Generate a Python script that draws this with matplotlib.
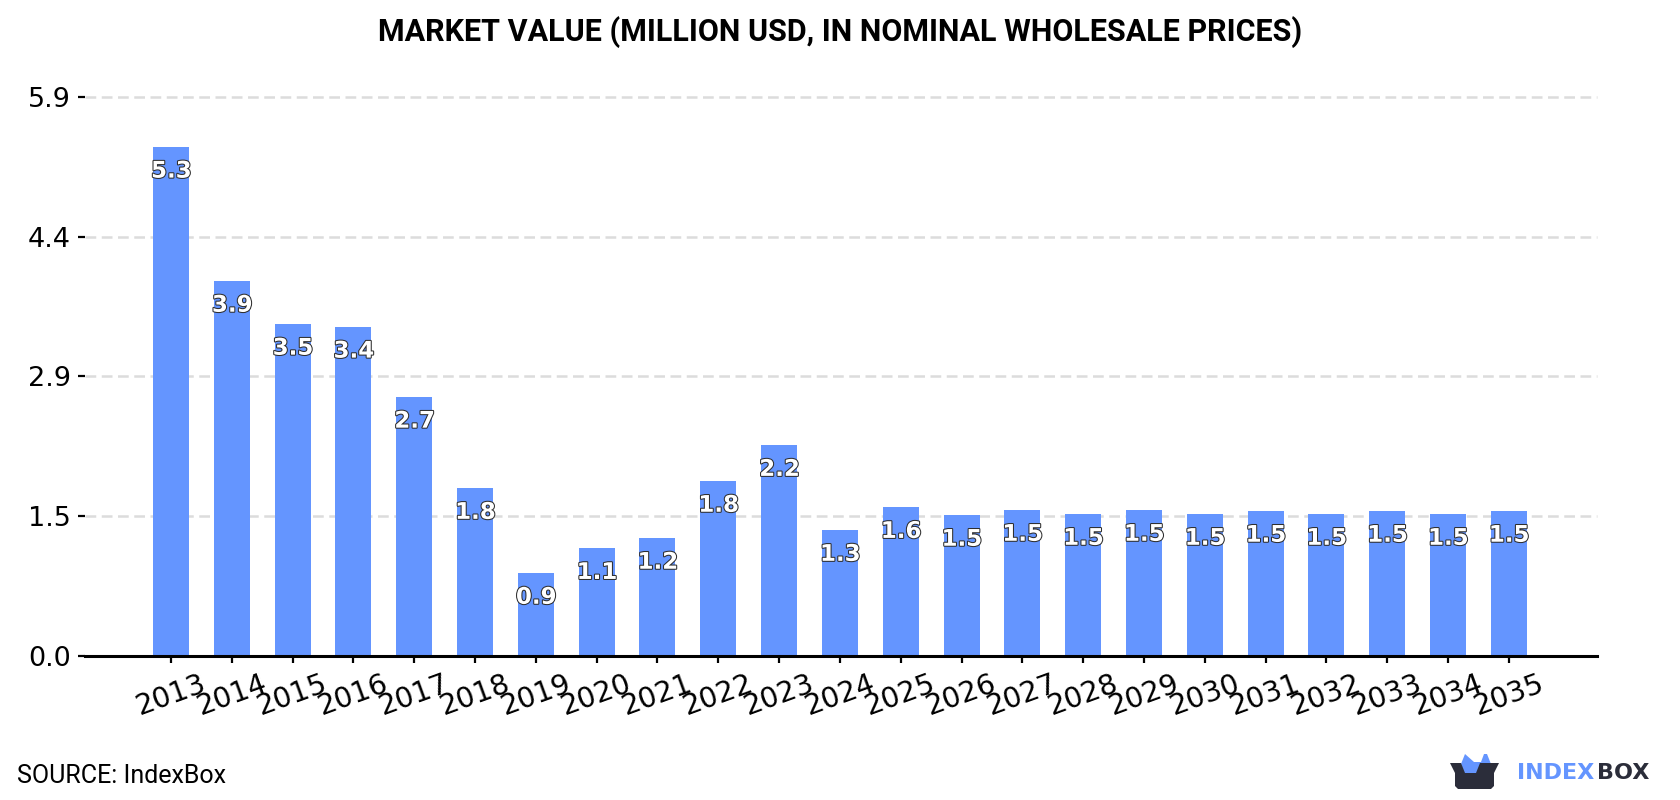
import numpy as np
import matplotlib
matplotlib.use('Agg')
import matplotlib.pyplot as plt
import matplotlib.patheffects as pe
from matplotlib.patches import Polygon

years = list(range(2013, 2036))
values = [5.335, 3.93, 3.48, 3.449, 2.715, 1.76, 0.87, 1.13, 1.237, 1.834, 2.21, 1.32,
          1.56, 1.478, 1.53, 1.488, 1.53, 1.488, 1.52, 1.488, 1.52, 1.488, 1.52]
y_ticks = np.linspace(0, 5.86, 5)

W, H = 1680, 800
BLUE = '#6495ff'
DARK = '#2b2d3a'


def main():
    fig = plt.figure(figsize=(W / 100, H / 100), dpi=100)
    ax = fig.add_axes([85 / W, 1 - 656 / H, (1597 - 85) / W, (656 - 96.7) / H])

    x = np.arange(len(years))
    ax.bar(x, values, width=0.592, color=BLUE, zorder=3)
    ax.set_xlim(-1.414, 23.45)
    ax.set_ylim(0, y_ticks[-1])

    for xi, v in zip(x, values):
        ax.annotate('%.1f' % v, (xi, v), xytext=(0.3, -17.5), textcoords='offset points',
                    ha='center', va='center', fontsize=16.5, fontweight='bold',
                    color='white', zorder=5,
                    path_effects=[pe.withStroke(linewidth=1.5, foreground='#2e2e2e')])

    ax.set_xticks(x)
    ax.set_xticklabels(years, rotation=20, fontsize=20.5)
    ax.set_yticks(y_ticks)
    ax.set_yticklabels(['%.1f' % t for t in y_ticks], fontsize=19.5)
    ax.tick_params(axis='x', length=5, width=1.6, pad=5)
    ax.tick_params(axis='y', length=5, width=1.6, pad=5)

    ax.grid(axis='y', color='#dcdcdc', linewidth=1.8, linestyle=(0, (4.3, 2.2)), zorder=0)
    for line in ax.get_ygridlines():
        line.set_clip_on(False)
    ax.set_axisbelow(True)

    for side in ['top', 'right', 'left']:
        ax.spines[side].set_visible(False)
    ax.spines['bottom'].set_linewidth(2.2)
    ax.spines['bottom'].set_zorder(6)

    fig.text(840 / W, 1 - 32 / H, 'MARKET VALUE (MILLION USD, IN NOMINAL WHOLESALE PRICES)',
             ha='center', va='center', family='Roboto', fontweight='bold', fontsize=22,
             color='black')
    fig.text(17 / W, 1 - 776 / H, 'SOURCE: IndexBox', ha='left', va='center',
             family='Roboto', fontsize=18, color='black')

    # logo, laid out in pixel coordinates on a full-figure overlay
    over = fig.add_axes([0, 0, 1, 1])
    over.set_xlim(0, W)
    over.set_ylim(H, 0)
    over.axis('off')
    over.patch.set_alpha(0)
    over.add_patch(Polygon([(1461, 764), (1465, 754), (1474, 762), (1481, 762), (1484, 754),
                            (1487, 754), (1491, 764), (1486, 773), (1464, 773)],
                           closed=True, color=BLUE, lw=0))
    over.add_patch(Polygon([(1450, 763), (1461, 763), (1465, 773), (1476, 773), (1480, 763),
                            (1499, 763), (1494, 773), (1494, 786), (1491, 789), (1458, 789),
                            (1455, 786), (1455, 773)],
                           closed=True, color=DARK, lw=0))
    over.text(1517, 773, 'INDEX', ha='left', va='center', family='DejaVu Sans',
              fontweight='bold', fontsize=16, color=BLUE)
    over.text(1597, 773, 'BOX', ha='left', va='center', family='DejaVu Sans',
              fontweight='bold', fontsize=16, color=DARK)

    fig.savefig('out.png', dpi=100)


if __name__ == '__main__':
    main()
